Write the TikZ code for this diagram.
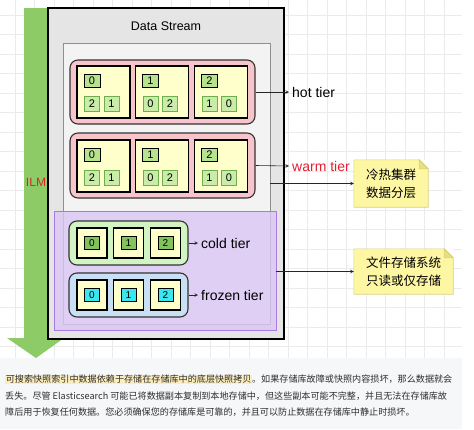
\documentclass[tikz,border=0pt]{standalone}
\usepackage{fontspec}
\setmainfont{Liberation Sans}
\newfontfamily\cjk{Noto Sans CJK SC}
\usepackage{xcolor}
\usepackage{tikz}
\usetikzlibrary{arrows, positioning}
\setlength{\fboxsep}{0.6pt}

\definecolor{streamgray}{HTML}{E5E5E5}
\definecolor{innergray}{HTML}{F3F3F3}
\definecolor{innerline}{HTML}{8F8F8F}
\definecolor{hotpink}{HTML}{F8C4CB}
\definecolor{shardyellow}{HTML}{FFFFCC}
\definecolor{primgreen}{HTML}{B7E38F}
\definecolor{repgreen}{HTML}{C9EDA8}
\definecolor{repline}{HTML}{6FAE4C}
\definecolor{coldgreen}{HTML}{D2F4C2}
\definecolor{coldsquare}{HTML}{82C35D}
\definecolor{frozenblue}{HTML}{C9E0F4}
\definecolor{frozensquare}{HTML}{3CE6EE}
\definecolor{purplefill}{HTML}{DCC6F5}
\definecolor{purpleline}{HTML}{A97BE0}
\definecolor{ilmgreen}{HTML}{8DCB67}
\definecolor{ilmred}{HTML}{D9262B}
\definecolor{warmred}{HTML}{E02030}
\definecolor{notefill}{HTML}{FDF6A3}
\definecolor{noteline}{HTML}{D6CF7A}
\definecolor{notefold}{HTML}{E9E07A}
\definecolor{hlyellow}{HTML}{FBEDBE}
\definecolor{bandgray}{HTML}{F6F7F9}
\definecolor{gridline}{HTML}{EBEBEB}
\definecolor{paragray}{HTML}{2E2E2E}

\begin{document}
\begin{tikzpicture}[x=1pt, y=-1pt, every node/.style={font=\normalfont}]
    % Define styles
    \tikzstyle{group} = [rectangle, rounded corners=8pt, draw=black!80, line width=1.1pt, inner sep=0pt]
    \tikzstyle{shardbox} = [rectangle, draw=black, line width=1.1pt, fill=shardyellow, minimum width=53pt, minimum height=52pt, inner sep=0pt]
    \tikzstyle{smallbox} = [shardbox, minimum width=30pt, minimum height=30pt]
    \tikzstyle{primary} = [rectangle, draw=black, line width=1pt, fill=primgreen, minimum width=16pt, minimum height=13pt, inner sep=0pt, font=\fontsize{11}{11}\selectfont]
    \tikzstyle{replica} = [rectangle, draw=repline, line width=0.6pt, fill=repgreen, minimum width=15pt, minimum height=15pt, inner sep=0pt, font=\fontsize{11}{11}\selectfont]
    \tikzstyle{tinybox} = [rectangle, draw=black, line width=0.9pt, minimum width=15pt, minimum height=13pt, inner sep=0pt, font=\fontsize{10}{10}\selectfont]
    \tikzstyle{tierlabel} = [anchor=west, inner sep=3pt, font=\fontsize{14}{14}\selectfont]
    \tikzstyle{notebox} = [rectangle, fill=notefill, inner sep=0pt, align=center, font=\cjk\fontsize{12.5}{18}\selectfont]
    \tikzstyle{arrow} = [->, >=stealth, line width=0.6pt, draw=black!85]

    \useasboundingbox (0,0) rectangle (474,429);

    % Background grid and text band
    \foreach \gx in {15,34.5,...,460} \draw[gridline, line width=0.4pt] (\gx,0) -- (\gx,358);
    \foreach \gy in {15,34.5,...,358} \draw[gridline, line width=0.4pt] (0,\gy) -- (462,\gy);
    \fill[bandgray] (0,358) rectangle (462,429);

    % ILM arrow
    \fill[ilmgreen] (24,8) -- (48,8) -- (48,338) -- (64,338) -- (36,358) -- (7,338) -- (24,338) -- cycle;
    \node (ilm) [text=ilmred, font=\fontsize{12}{12}\selectfont] at (36,182) {ILM};

    % Data stream
    \node (stream) [rectangle, draw=black, line width=1.2pt, fill=streamgray, minimum width=236pt, minimum height=331pt] at (166,173.5) {};
    \node (title) [font=\fontsize{12.5}{12.5}\selectfont] at (166,26) {Data Stream};
    \node (inner) [rectangle, draw=innerline, line width=0.8pt, fill=innergray, minimum width=207pt, minimum height=281pt] at (166.5,183.5) {};
    \node (purple) [rectangle, draw=purpleline, line width=0.9pt, fill=purplefill, fill opacity=0.8, minimum width=222pt, minimum height=119pt] at (165,270.5) {};

    % Hot and warm tiers
    \node (hot) [group, fill=hotpink, minimum width=185pt, minimum height=64pt] at (162.5,92) {};
    \node (warm) [group, fill=hotpink, minimum width=185pt, minimum height=65pt] at (162.5,165.5) {};
    \foreach \t/\y in {hot/92, warm/166} {
        \foreach \i/\x/\p/\a/\b in {1/103.5/0/2/1, 2/162/1/0/2, 3/221/2/1/0} {
            \node (\t\i) [shardbox] at (\x,\y) {};
            \node (\t\i p) [primary] at (\x-11.5,\y-11.5) {\p};
            \node (\t\i a) [replica] at (\x-11.5,\y+11.5) {\a};
            \node (\t\i b) [replica] at (\x+8,\y+11.5) {\b};
        }
    }

    % Cold and frozen tiers
    \node (cold) [group, fill=coldgreen, minimum width=119pt, minimum height=44pt] at (128.5,243) {};
    \node (frozen) [group, fill=frozenblue, minimum width=119pt, minimum height=44pt] at (128.5,295) {};
    \foreach \i/\x in {0/92, 1/128.5, 2/165.5} {
        \node (cold\i) [smallbox] at (\x,243) {};
        \node (cold\i s) [tinybox, fill=coldsquare] at (\x,243) {\i};
        \node (frozen\i) [smallbox] at (\x,295) {};
        \node (frozen\i s) [tinybox, fill=frozensquare] at (\x,295) {\i};
    }

    % Tier labels
    \node (hotlbl) [tierlabel] at (289,92) {hot tier};
    \node (warmlbl) [tierlabel, text=warmred] at (289,166) {warm tier};
    \node (coldlbl) [tierlabel] at (198,243) {cold tier};
    \node (frozenlbl) [tierlabel] at (198,295) {frozen tier};

    % Notes
    \node (note1) [notebox, minimum width=74pt, minimum height=47pt] at (391,183.5) {冷热集群\\数据分层};
    \node (note2) [notebox, minimum width=99pt, minimum height=45pt] at (403.5,271.5) {文件存储系统\\只读或仅存储};
    \foreach \n in {note1, note2} {
        \fill[white] ([xshift=-9pt]\n.north east) -- (\n.north east) -- ([yshift=-9pt]\n.north east) -- cycle;
        \filldraw[fill=notefold, draw=noteline, line width=0.5pt] ([xshift=-9pt]\n.north east) -- ([xshift=-9pt, yshift=-9pt]\n.north east) -- ([yshift=-9pt]\n.north east) -- cycle;
        \draw[noteline, line width=0.6pt] (\n.south west) -- (\n.north west) -- ([xshift=-9pt]\n.north east) -- ([yshift=-9pt]\n.north east) -- (\n.south east) -- cycle;
    }

    % Arrows
    \draw [arrow] (hot.east) -- (hotlbl.west);
    \draw [arrow] (warm.east) -- (warmlbl.west);
    \draw [arrow] (cold.east) -- (coldlbl.west);
    \draw [arrow] (frozen.east) -- (frozenlbl.west);
    \draw [arrow] (inner.east |- note1.west) -- (note1.west);
    \draw [arrow] (purple.east |- note2.west) -- (note2.west);

    % Paragraph
    \node (para) [anchor=north west, align=left, inner sep=0pt, text=paragray, font=\cjk\fontsize{9.1}{16.3}\selectfont] at (5,374.5) {\colorbox{hlyellow}{可搜索快照索引中数据依赖于存储在存储库中的底层快照拷贝}。如果存储库故障或快照内容损坏，那么数据就会\\丢失。尽管 Elasticsearch 可能已将数据副本复制到本地存储中，但这些副本可能不完整，并且无法在存储库故\\障后用于恢复任何数据。您必须确保您的存储库是可靠的，并且可以防止数据在存储库中静止时损坏。};
\end{tikzpicture}
\end{document}
